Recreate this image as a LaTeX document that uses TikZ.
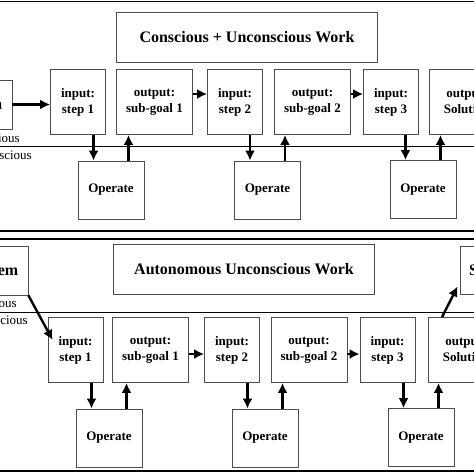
\documentclass[tikz,border=0pt]{standalone}
\usepackage{fontspec}
\setmainfont{Liberation Serif}
\usetikzlibrary{arrows.meta}
\tikzset{
    every node/.append style={font=\fontsize{13}{16}\selectfont\bfseries},
    box/.style={draw=black!70, line width=0.8pt, fill=white, align=center, inner sep=0pt},
    inbox/.style={box, minimum width=55pt, minimum height=65pt},
    outbox/.style={box, minimum width=76pt, minimum height=65pt},
    opbox/.style={box, minimum width=66pt, minimum height=58pt},
    titlebox/.style={box, minimum width=261pt, minimum height=50pt, font=\fontsize{16}{19}\selectfont\bfseries},
    probbox/.style={box, minimum width=78pt, minimum height=49pt, font=\fontsize{16}{19}\selectfont\bfseries},
    side/.style={anchor=base east, inner sep=0pt, font=\fontsize{13}{16}\selectfont},
    arrow/.style={line width=2.4pt, -{Latex[length=10pt,width=10pt]}},
    frame/.style={line width=1.6pt},
}

\begin{document}
\begin{tikzpicture}[x=1pt,y=-1pt]
  \useasboundingbox (0,0) rectangle (474,474);
  % frames
  \draw[frame] (0,1.5) -- (474,1.5);
  \draw[frame] (0,231) -- (474,231);
  \draw[frame] (0,239) -- (474,239);
  \draw[frame] (0,471) -- (474,471);

  % top panel
  \node[titlebox] (work1) at (247,37) {Conscious + Unconscious Work};
  \node[probbox] (prob1) at (-27,104.5) {Problem};
  \node[inbox] (in1) at (78,102) {input:\\step 1};
  \node[outbox] (out1) at (154.5,102) {output:\\sub-goal 1};
  \node[inbox] (in2) at (235,102) {input:\\step 2};
  \node[outbox] (out2) at (312.5,102) {output:\\sub-goal 2};
  \node[inbox] (in3) at (391,102) {input:\\step 3};
  \node[outbox] (out3) at (467,102) {output:\\Solution};
  \node[opbox] (op1) at (111,190) {Operate};
  \node[opbox] (op2) at (267.5,190) {Operate};
  \node[opbox] (op3) at (423,189.5) {Operate};
  \node[side] (con1) at (20,142) {Conscious};
  \node[side] (uncon1) at (32,159) {Unconscious};
  \draw (0,146) -- (474,146);

  % top arrows
  \draw[arrow] (prob1.east) -- (prob1.east -| in1.west);
  \draw[arrow] ([yshift=8pt]out1.east) -- ([yshift=8pt]in2.west);
  \draw[arrow] ([yshift=8pt]out2.east) -- ([yshift=8pt]in3.west);
  \draw[arrow] ([xshift=-17.5pt]op1.north |- in1.south) -- ([xshift=-17.5pt]op1.north);
  \draw[arrow] ([xshift=17.5pt]op1.north) -- ([xshift=17.5pt]op1.north |- out1.south);
  \draw[arrow] ([xshift=-17.5pt]op2.north |- in2.south) -- ([xshift=-17.5pt]op2.north);
  \draw[arrow] ([xshift=17.5pt]op2.north) -- ([xshift=17.5pt]op2.north |- out2.south);
  \draw[arrow] ([xshift=-17.5pt]op3.north |- in3.south) -- ([xshift=-17.5pt]op3.north);
  \draw[arrow] ([xshift=17.5pt]op3.north) -- ([xshift=17.5pt]op3.north |- out3.south);

  % bottom panel
  \node[titlebox] (work2) at (244,269) {Autonomous Unconscious Work};
  \node[probbox] (prob2) at (-11,270.5) {Problem};
  \node[probbox, minimum width=75pt, minimum height=48pt] (sol2) at (497.5,270) {Solution};
  \node[inbox] (in4) at (75.5,350) {input:\\step 1};
  \node[outbox] (out4) at (150.5,350) {output:\\sub-goal 1};
  \node[inbox] (in5) at (232,350) {input:\\step 2};
  \node[outbox] (out5) at (309,350) {output:\\sub-goal 2};
  \node[inbox] (in6) at (387.5,350) {input:\\step 3};
  \node[outbox] (out6) at (466,350) {output:\\Solution};
  \node[opbox] (op4) at (109,438) {Operate};
  \node[opbox] (op5) at (265,438) {Operate};
  \node[opbox] (op6) at (421,437.5) {Operate};
  \node[side] (con2) at (17,307) {Conscious};
  \node[side] (uncon2) at (28,324) {Unconscious};
  \draw (0,312.5) -- (474,312.5);

  % bottom arrows
  \draw[arrow] (prob2.south east) -- ([shift={(5pt,10pt)}]in4.west);
  \draw[arrow] ([yshift=-4pt]out4.east) -- ([yshift=-4pt]in5.west);
  \draw[arrow] ([yshift=-4pt]out5.east) -- ([yshift=-4pt]in6.west);
  \draw[arrow] ([xshift=-24pt]out6.north) -- ([shift={(-2pt,8pt)}]sol2.south west);
  \draw[arrow] ([xshift=-17.5pt]op4.north |- in4.south) -- ([xshift=-17.5pt]op4.north);
  \draw[arrow] ([xshift=17.5pt]op4.north) -- ([xshift=17.5pt]op4.north |- out4.south);
  \draw[arrow] ([xshift=-17.5pt]op5.north |- in5.south) -- ([xshift=-17.5pt]op5.north);
  \draw[arrow] ([xshift=17.5pt]op5.north) -- ([xshift=17.5pt]op5.north |- out5.south);
  \draw[arrow] ([xshift=-17.5pt]op6.north |- in6.south) -- ([xshift=-17.5pt]op6.north);
  \draw[arrow] ([xshift=17.5pt]op6.north) -- ([xshift=17.5pt]op6.north |- out6.south);
\end{tikzpicture}
\end{document}
